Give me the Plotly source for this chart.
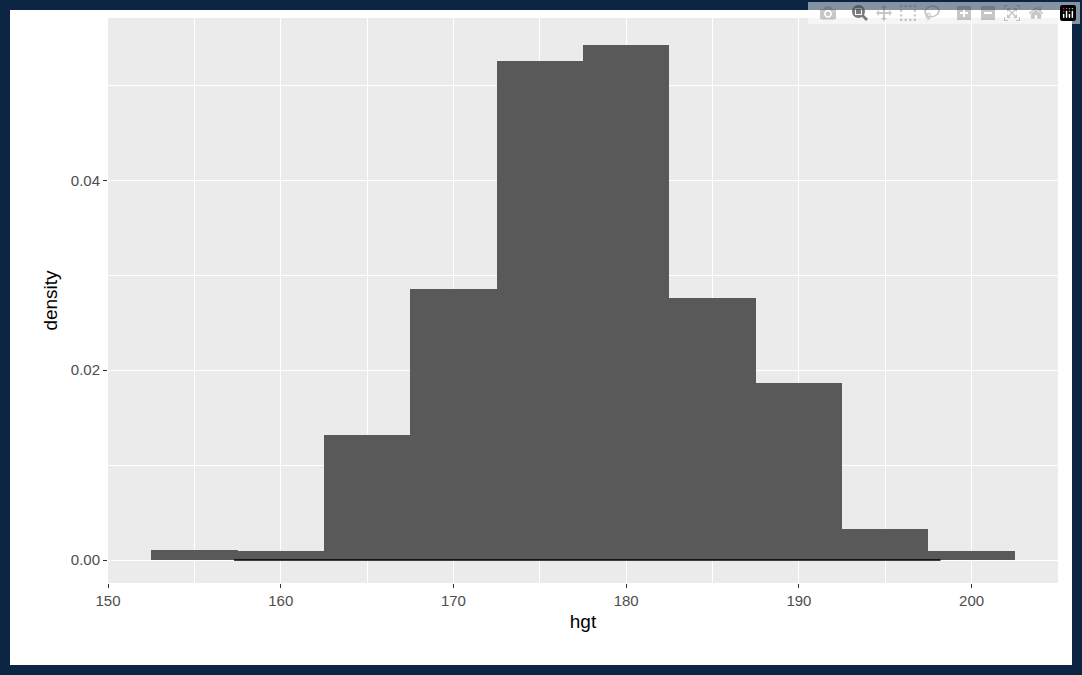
import plotly.graph_objects as go

bin_centers = [155, 160, 165, 170, 175, 180, 185, 190, 195, 200]
densities = [0.00105, 0.001, 0.0132, 0.0285, 0.0526, 0.0543, 0.0276, 0.0187, 0.0033, 0.001]
line_x = [157.3, 198.2]
line_y = [0, 0]
x_ticks = [150, 160, 170, 180, 190, 200]
y_ticks = [0.00, 0.02, 0.04]
y_tick_labels = ["0.00", "0.02", "0.04"]

W, H = 1082, 675
L, R, T, B = 108, 24, 18, 92
pw, ph = W - L - R, H - T - B

fig = go.Figure()
fig.add_trace(go.Bar(x=bin_centers, y=densities, width=5, marker=dict(color="#595959", line_width=0),
                     showlegend=False))
fig.add_trace(go.Scatter(x=line_x, y=line_y, mode="lines", line=dict(color="black", width=1.5),
                         showlegend=False))
fig.update_layout(
    width=W, height=H, margin=dict(l=L, r=R, t=T, b=B),
    paper_bgcolor="white", plot_bgcolor="#EBEBEB",
    font=dict(family="Liberation Sans, Arial", color="#4D4D4D", size=15),
    bargap=0,
    xaxis=dict(range=[150, 205], tickvals=x_ticks, showgrid=True, gridcolor="white", gridwidth=1.3,
               minor=dict(tickvals=[155, 165, 175, 185, 195], showgrid=True, gridcolor="white", gridwidth=0.6),
               ticks="outside", ticklen=4, tickcolor="#333333", zeroline=False,
               title=dict(text="hgt", font=dict(size=19, color="black"), standoff=6)),
    yaxis=dict(range=[-0.00242, 0.0571], tickvals=y_ticks, ticktext=y_tick_labels, showgrid=True,
               gridcolor="white", gridwidth=1.3,
               minor=dict(tickvals=[0.01, 0.03, 0.05], showgrid=True, gridcolor="white", gridwidth=0.6),
               ticks="outside", ticklen=4, tickcolor="#333333", zeroline=False,
               title=dict(text="density", font=dict(size=19, color="black"), standoff=8)),
    shapes=[dict(type="rect", xref="paper", yref="paper",
                 x0=-L / pw, x1=1 + R / pw, y0=-B / ph, y1=1 + T / ph,
                 line=dict(color="#0B2542", width=20), fillcolor="rgba(0,0,0,0)", layer="above")],
)
fig.write_html("out.html")
with open("out.html", encoding="utf-8") as f:
    html = f.read()
html = html.replace("<head>", "<head><style>html,body{margin:0;padding:0;overflow:hidden;}</style>", 1)
with open("out.html", "w", encoding="utf-8") as f:
    f.write(html)
